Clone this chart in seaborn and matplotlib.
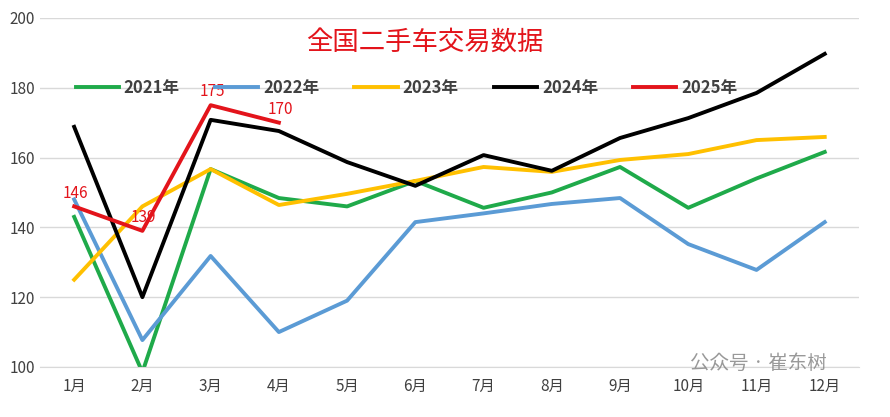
import matplotlib.pyplot as plt
from matplotlib import font_manager
import seaborn as sns
import pandas as pd

cjk = [f.name for f in font_manager.fontManager.ttflist if "CJK" in f.name]
pref = [n for n in ["Noto Sans CJK SC", "Noto Sans CJK JP"] if n in cjk] or cjk
plt.rcParams['font.family'] = pref[:1] + ['DejaVu Sans']

months = [f"{i}月" for i in range(1, 13)]
v2021 = [143, 98.5, 156.7, 148.4, 146, 153.3, 145.6, 150, 157.3, 145.6, 154, 161.6]
v2022 = [148, 107.7, 131.8, 110, 119, 141.5, 144, 146.7, 148.4, 135.2, 127.8, 141.5]
v2023 = [125, 146, 156.7, 146.4, 149.6, 153.3, 157.3, 155.9, 159.3, 161, 165, 165.9]
v2024 = [168.8, 120, 170.8, 167.6, 158.7, 151.9, 160.7, 156.2, 165.6, 171.3, 178.5, 189.7]
v2025 = [146, 139, 175, 170]

series = {"2021年": v2021, "2022年": v2022, "2023年": v2023, "2024年": v2024, "2025年": v2025}
colors = {"2021年": "#1faa4a", "2022年": "#5b9bd5", "2023年": "#ffc000", "2024年": "#000000", "2025年": "#e3141b"}

rows = []
for name, vals in series.items():
    for i, v in enumerate(vals):
        rows.append({"月": i, "值": v, "年": name})
df = pd.DataFrame(rows)

fig, ax = plt.subplots(figsize=(8.9, 4.17), dpi=100)
fig.subplots_adjust(left=0.045, right=0.965, top=0.957, bottom=0.12)
sns.lineplot(data=df, x="月", y="值", hue="年", palette=colors, linewidth=2.8, ax=ax, sort=False)

for i, v in enumerate(v2025):
    ax.text(i + 0.02, v + 2.5, f"{v:g}", color="#e3141b", fontsize=11, ha="center")

ax.set_ylim(100, 200)
ax.set_xlim(-0.5, 11.5)
ax.set_yticks(range(100, 201, 20))
ax.set_xticks(range(12))
ax.set_xticklabels(months)
ax.set_xlabel("")
ax.set_ylabel("")
ax.grid(axis="y", color="#d9d9d9", linewidth=1)
ax.set_axisbelow(True)
for s in ["top", "right", "left"]:
    ax.spines[s].set_visible(False)
ax.spines["bottom"].set_color("#d9d9d9")
ax.tick_params(length=0, labelsize=11, colors="#404040")
ax.tick_params(axis="x", pad=8)

ax.text(0.47, 0.93, "全国二手车交易数据", transform=ax.transAxes, color="#e3141b",
        fontsize=19, ha="center", va="center")
leg = ax.legend(loc="center left", bbox_to_anchor=(0.025, 0.8), ncol=5, frameon=False,
                prop={"weight": "bold", "size": 12}, handlelength=2.6, handletextpad=0.3,
                columnspacing=2.1)
for t in leg.get_texts():
    t.set_color("#404040")
fig.text(0.775, 0.115, "公众号 · 崔东树", color="#808080", fontsize=14, alpha=0.8)

fig.savefig("out.png")
